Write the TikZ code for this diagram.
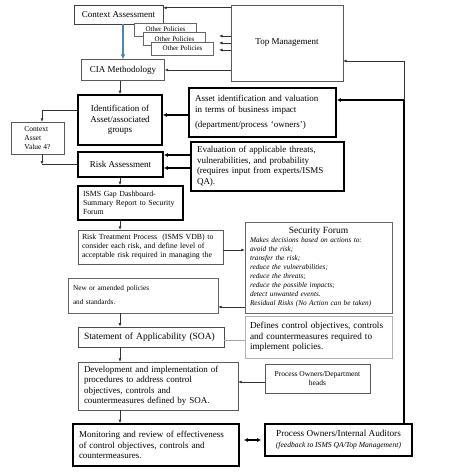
\documentclass[tikz,border=0pt]{standalone}
\usepackage{fontspec}
\setmainfont{Liberation Serif}
\usetikzlibrary{arrows.meta}
\definecolor{ciablue}{RGB}{79,129,189}

\tikzset{
  box/.style={draw=black!65, rectangle, inner sep=0pt, align=center, font=\fontsize{9}{10.5}\selectfont},
  thickbox/.style={box, draw=black, line width=1.7pt},
  small/.style={font=\fontsize{7.5}{9}\selectfont},
  policy/.style={box, draw=black!60, fill=white, font=\fontsize{7}{8}\selectfont, minimum width=62pt, minimum height=13pt},
  arr/.style={draw=black!80, line width=0.7pt, -{Latex[length=3.5pt,width=3pt]}},
  thickarr/.style={draw=black, line width=1.7pt, -{Latex[length=4pt,width=4pt]}},
}

\begin{document}
\begin{tikzpicture}[x=1pt, y=-1pt]
\useasboundingbox[fill=white] (0,0) rectangle (474,474);
%%%%%%%%%%%%%%%%%%%%%%%%%%%%%%%
% top row
%%%%%%%%%%%%%%%%%%%%%%%%%%%%%%%
\node[box, draw=black!75, minimum width=89pt, minimum height=19pt] (ctxA) at (118.5,14.5) {Context Assessment};
\node[box, minimum width=112pt, minimum height=76pt] (topM) at (287,43) {Top Management};
\foreach \i/\x/\y in {1/165.5/29.5, 2/174.5/39, 3/182.5/48.5}
  \node[policy] (pol\i) at (\x,\y) {Other Policies};
\node[box, minimum width=83pt, minimum height=21pt] (cia) at (123,70) {CIA Methodology};
%
\draw[arr] ([yshift=-3pt]topM.north west) -- ([yshift=-3pt]ctxA.north east);
\foreach \y in {36,43,50} {
  \coordinate (p\y) at (219,\y);
  \draw[arr] (topM.west |- p\y) -- (p\y);
}
\draw[ciablue, line width=1.4pt, -{Latex[length=5pt,width=5pt]}] (cia.north |- ctxA.south) -- (cia.north);
\draw[arr] (topM.west |- cia.east) -- (cia.east);
%%%%%%%%%%%%%%%%%%%%%%%%%%%%%%%
% assets and risks
%%%%%%%%%%%%%%%%%%%%%%%%%%%%%%%
\coordinate (col) at (120,0);
\node[thickbox, minimum width=84pt, minimum height=50pt] (ident) at (120,120) {Identification of\\Asset/associated\\groups};
\node[thickbox, align=left, text width=135pt, minimum width=147pt, minimum height=49pt] (asset) at (262.5,112.5) {Asset identification and valuation\\in terms of business impact\\[5pt](department/process `owners')};
\node[box, small, align=left, minimum width=53pt, minimum height=32pt] (ctx) at (37.5,138) {Context\\Asset\\Value 4?};
\node[thickbox, minimum width=85pt, minimum height=25pt] (risk) at (120.5,164.5) {Risk Assessment};
\node[thickbox, align=left, text width=141pt, minimum width=153pt, minimum height=49pt] (eval) at (267.5,166.5) {Evaluation of applicable threats,\\vulnerabilities, and probability\\(requires input from experts/ISMS\\QA).};
\node[thickbox, font=\fontsize{7.8}{9}\selectfont, align=left, text width=95pt, minimum width=105pt, minimum height=34pt] (gap) at (130.5,203) {ISMS Gap Dashboard-\\Summary Report to Security\\Forum};
%
\draw[arr] (col |- cia.south) -- (col |- ident.north);
\draw[thickarr] ([yshift=-2.5pt]asset.west) -- ([yshift=-2.5pt]asset.west -| ident.east);
\draw[arr] ([yshift=10pt]ident.west) -| ([xshift=4.5pt]ctx.north);
\draw[arr] ([xshift=4.5pt]ctx.south) -- ([xshift=4.5pt]ctx.south |- risk.west);
\draw[draw=black!80, line width=0.7pt] ([xshift=4.5pt]ctx.south |- risk.west) -- (risk.west);
\foreach \d in {9.5,-3.5}
  \draw[thickarr] ([yshift=\d pt]risk.east -| eval.west) -- ([yshift=\d pt]risk.east);
\draw[arr] (col |- risk.south) -- (col |- gap.north);
%%%%%%%%%%%%%%%%%%%%%%%%%%%%%%%
% treatment and forum
%%%%%%%%%%%%%%%%%%%%%%%%%%%%%%%
\node[box, font=\fontsize{7.8}{9}\selectfont, align=left, text width=137pt, minimum width=145pt, minimum height=34pt] (treat) at (150.5,247) {Risk Treatment Process\ \ (ISMS VDB) to\\consider each risk, and define level of\\acceptable risk required in managing the};
\node[box, draw=black!60, align=left, text width=137pt, minimum width=147pt, minimum height=91pt, font=\fontsize{7.3}{9}\selectfont\itshape] (forum) at (318.5,267.5) {\makebox[\linewidth]{\upshape\fontsize{9.5}{9}\selectfont Security Forum}\\Makes decisions based on actions to:\\avoid the risk;\\transfer the risk;\\reduce the vulnerabilities;\\reduce the threats;\\reduce the possible impacts;\\detect unwanted events.\\Residual Risks (No Action can be taken)};
\node[box, draw=black!60, font=\fontsize{7.3}{9}\selectfont, align=left, text width=140pt, minimum width=150pt, minimum height=35pt] (newpol) at (143,295.5) {New or amended policies\\[5pt]and standards.};
%
\draw[arr] (col |- gap.south) -- (col |- treat.north);
\draw[arr] ([yshift=-3pt]treat.east) -- ([yshift=-3pt]treat.east -| forum.west);
\draw[arr] ([yshift=-11.5pt]newpol.east -| forum.west) -- ([yshift=-11.5pt]newpol.east);
%%%%%%%%%%%%%%%%%%%%%%%%%%%%%%%
% SOA and below
%%%%%%%%%%%%%%%%%%%%%%%%%%%%%%%
\node[box, draw=black!70, line width=0.8pt, align=left, text width=134pt, minimum width=146pt, minimum height=20pt, font=\fontsize{9.5}{11}\selectfont] (soa) at (151,337) {Statement of Applicability (SOA)};
\node[box, draw=black!30, line width=0.8pt, align=left, text width=137pt, minimum width=147pt, minimum height=42pt, font=\fontsize{9.2}{10.7}\selectfont] (defines) at (318.5,337) {Defines control objectives, controls\\and countermeasures required to\\implement policies.};
\node[box, align=left, text width=148pt, minimum width=160pt, minimum height=48pt] (dev) at (158,386) {Development and implementation of\\procedures to address control\\objectives, controls and\\countermeasures defined by SOA.};
\node[box, small, minimum width=105pt, minimum height=29pt] (heads) at (317.5,378.5) {Process Owners/Department\\heads};
\node[thickbox, align=left, text width=154pt, minimum width=166pt, minimum height=42pt] (mon) at (156,445) {Monitoring and review of effectiveness\\of control objectives, controls and\\countermeasures.};
\node[thickbox, minimum width=147pt, minimum height=32pt, font=\fontsize{9.2}{11}\selectfont] (audit) at (338.5,440) {Process Owners/Internal Auditors\\{\itshape\fontsize{7.6}{11}\selectfont (feedback to ISMS QA/Top Management)}};
%
\draw[arr] (col |- newpol.south) -- (col |- soa.north);
\draw[black!35, line width=0.8pt] ([yshift=-3.5pt]soa.east) -- ([yshift=-3.5pt]soa.east -| defines.west);
\draw[arr] (col |- soa.south) -- (col |- dev.north);
\draw[arr] ([yshift=-3.5pt]heads.west) -- ([yshift=-3.5pt]heads.west -| dev.east);
\draw[arr] (col |- dev.south) -- (col |- mon.north);
\draw[thickarr, {Latex[length=4pt,width=4pt]}-{Latex[length=4pt,width=4pt]}, shorten <=4pt, shorten >=3pt] (mon.east |- audit.west) -- (audit.west);
% feedback line
\coordinate (fb) at (404,100);
\draw[black, line width=1.7pt] (audit.north -| fb) -- (fb);
\draw[thickarr] (fb) -- (fb -| asset.east);
\draw[arr] (fb) |- ([yshift=-18pt]topM.east);
%%%%%%%%%%%%%%%%%%%%%%%%%%%%%%%
\end{tikzpicture}
\end{document}
